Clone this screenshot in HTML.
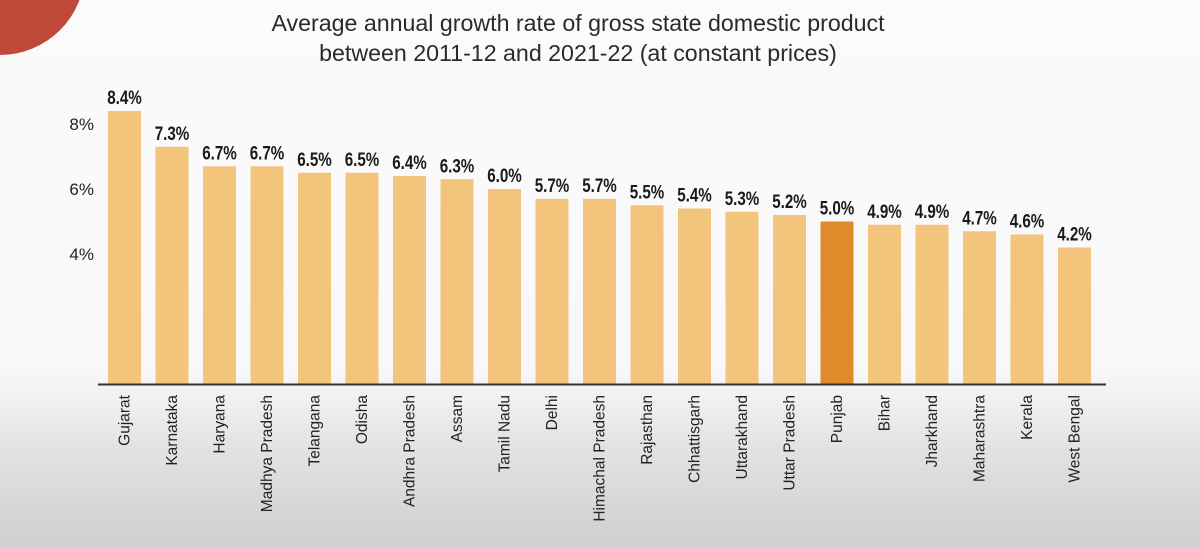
<!DOCTYPE html>
<html><head><meta charset="utf-8"><style>
body{margin:0;width:1200px;height:547px;overflow:hidden;font-family:"Liberation Sans",sans-serif;}
#bg{position:absolute;left:0;top:0;width:1200px;height:547px;background:linear-gradient(#fbfbfb 0,#f8f8f8 370px,#e2e2e2 450px,#cfcfcf 547px);}
</style></head><body>
<div id="bg"></div>
<svg id="chart" width="1200" height="547" style="position:absolute;left:0;top:0">
<circle cx="0" cy="-30" r="85" fill="#c0493a"/>
<text x="578" y="31" text-anchor="middle" font-size="23.2" fill="#2a2a2a">Average annual growth rate of gross state domestic product</text>
<text x="578" y="61" text-anchor="middle" font-size="23.2" fill="#2a2a2a">between 2011-12 and 2021-22 (at constant prices)</text>
<g id="ticks"></g><g id="bars"></g>
<line x1="98" x2="1106" y1="384.5" y2="384.5" stroke="#333" stroke-width="2"/>
</svg>
<script>
const categories=["Gujarat","Karnataka","Haryana","Madhya Pradesh","Telangana","Odisha","Andhra Pradesh","Assam","Tamil Nadu","Delhi","Himachal Pradesh","Rajasthan","Chhattisgarh","Uttarakhand","Uttar Pradesh","Punjab","Bihar","Jharkhand","Maharashtra","Kerala","West Bengal"];
const values=[8.4,7.3,6.7,6.7,6.5,6.5,6.4,6.3,6.0,5.7,5.7,5.5,5.4,5.3,5.2,5.0,4.9,4.9,4.7,4.6,4.2];
const highlight=["Punjab"];
const tickValues=[4,6,8];
const tickLabels=["4%","6%","8%"];
const NS="http://www.w3.org/2000/svg";
const y=v=>384-v*32.5;
const x=i=>108+i*47.5;
const bw=33;
const tg=document.getElementById('ticks'),bg=document.getElementById('bars');
function mk(t,a,p){const e=document.createElementNS(NS,t);for(const k in a)e.setAttribute(k,a[k]);p.appendChild(e);return e;}
tickValues.forEach((v,i)=>{
 const t=mk('text',{x:94,y:y(v)+6,'text-anchor':'end','font-size':17,fill:'#222'},tg);
 t.textContent=tickLabels[i];
 
 
});
categories.forEach((c,i)=>{
 const r=mk('rect',{x:x(i),y:y(values[i]),width:bw,height:384-y(values[i]),fill:highlight.includes(c)?'#e08a2c':'#f2c47c'},bg);
 
 
 const cxv=x(i)+bw/2, yv=y(values[i])-7;
 const vl=mk('text',{x:0,y:0,'text-anchor':'middle','font-size':19,'font-weight':'bold',fill:'#1a1a1a',transform:`translate(${cxv},${yv}) scale(0.8,1)`},bg);
 vl.textContent=values[i].toFixed(1)+'%';
 
 
 const cx=x(i)+bw/2+5;
 const lb=mk('text',{x:cx,y:395,'text-anchor':'end','font-size':15.5,fill:'#222',transform:`rotate(-90 ${cx} 395)`},bg);
 lb.textContent=c;
 
 
});
</script>
</body></html>
